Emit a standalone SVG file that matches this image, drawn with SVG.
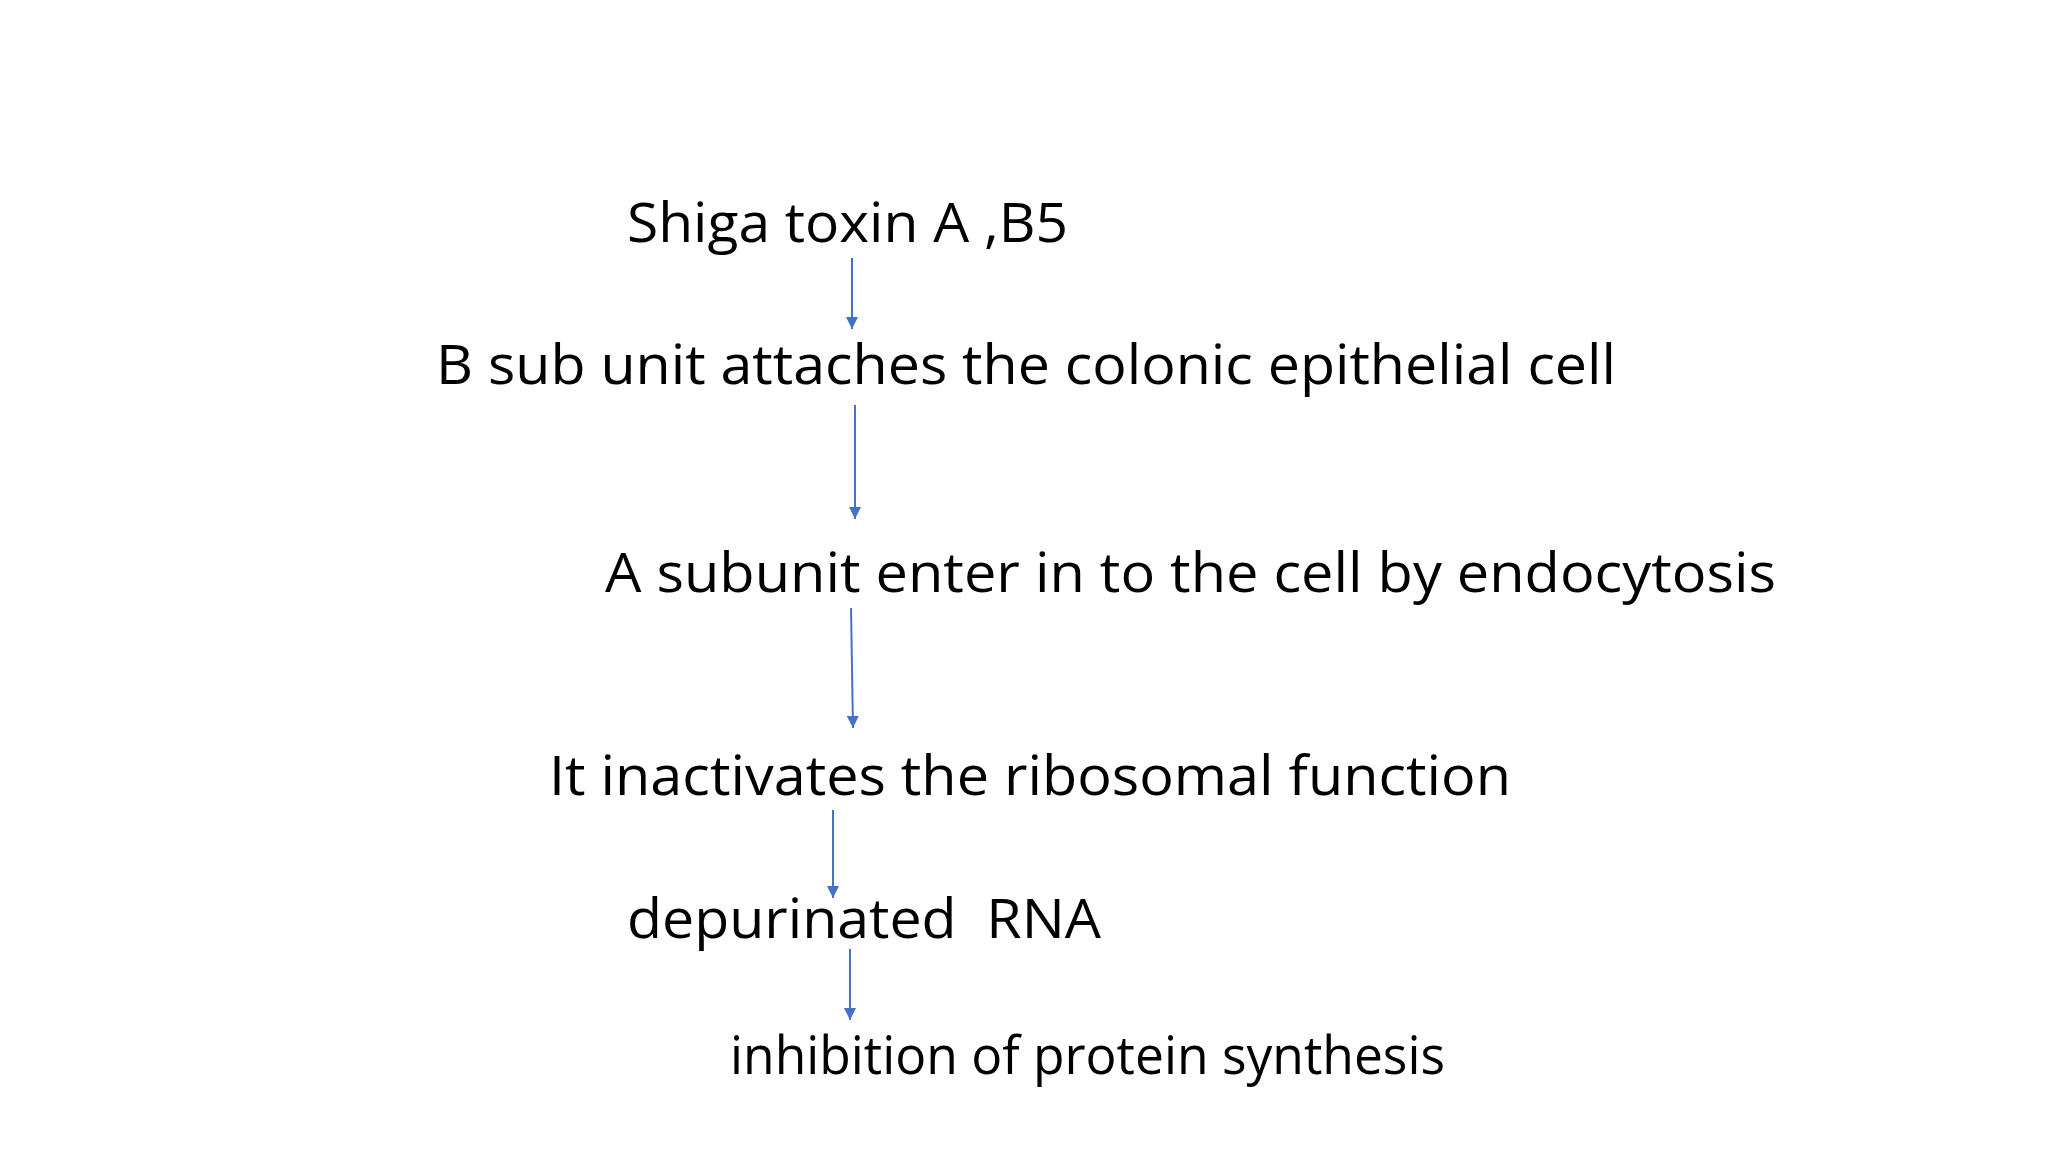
<svg xmlns="http://www.w3.org/2000/svg" width="2048" height="1152" viewBox="0 0 2048 1152">
<defs>
<style>
.t{font-family:"Open Sans","Noto Sans","Liberation Sans",sans-serif;font-size:55px;fill:#000;white-space:pre}
.s{font-size:53px}
.c{stroke:#4472C4;stroke-width:2;fill:none}
</style>
<marker id="ah" markerWidth="12" markerHeight="12" refX="12" refY="6" orient="auto" markerUnits="userSpaceOnUse">
<path d="M0,0 L12,6 L0,12 Z" fill="#4472C4"/>
</marker>
</defs>
<rect width="2048" height="1152" fill="#fff"/>
<g id="n1"><text class="t" x="627" y="242" textLength="441" lengthAdjust="spacingAndGlyphs">Shiga toxin A ,B5</text></g>
<g id="n2"><text class="t" x="436" y="384" textLength="1180" lengthAdjust="spacingAndGlyphs">B sub unit attaches the colonic epithelial cell</text></g>
<g id="n3"><text class="t" x="605" y="592" textLength="1171" lengthAdjust="spacingAndGlyphs">A subunit enter in to the cell by endocytosis</text></g>
<g id="n4"><text class="t" x="549" y="795" textLength="962" lengthAdjust="spacingAndGlyphs">It inactivates the ribosomal function</text></g>
<g id="n5"><text class="t" x="627" y="938" textLength="474" lengthAdjust="spacingAndGlyphs" xml:space="preserve">depurinated  RNA</text></g>
<g id="n6"><text class="t s" x="730" y="1074" textLength="715" lengthAdjust="spacingAndGlyphs">inhibition of protein synthesis</text></g>
<g id="connectors">
<line class="c" x1="852" y1="258" x2="852" y2="329" marker-end="url(#ah)"/>
<line class="c" x1="855" y1="405" x2="855" y2="519" marker-end="url(#ah)"/>
<line class="c" x1="851" y1="608" x2="853" y2="728" marker-end="url(#ah)"/>
<line class="c" x1="833" y1="810" x2="833" y2="898" marker-end="url(#ah)"/>
<line class="c" x1="850" y1="949" x2="850" y2="1020" marker-end="url(#ah)"/>
</g>
</svg>
